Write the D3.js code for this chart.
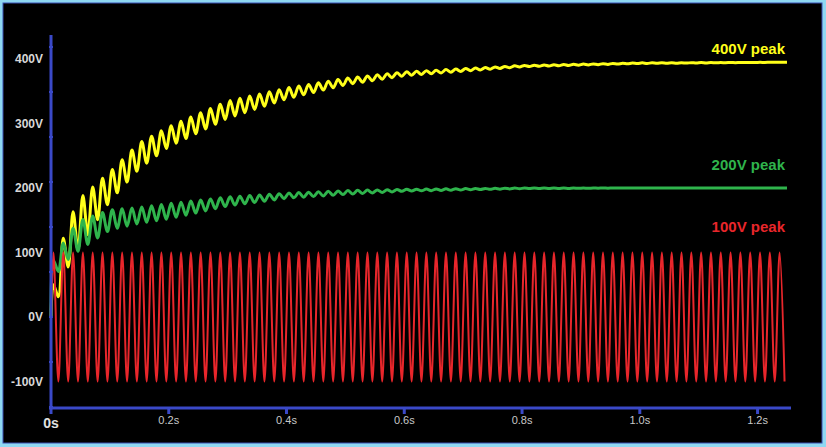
<!DOCTYPE html>
<html><head><meta charset="utf-8">
<script src="https://cdn.jsdelivr.net/npm/d3@7"></script>
<style>body{margin:0;background:#8fd8f2}svg{display:block}</style>
</head><body><div id="chart"></div>
<script>
// values
const yTicks = [-100, 0, 100, 200, 300, 400]
const xTicks = [0, 0.2, 0.4, 0.6, 0.8, 1.0, 1.2]
const freq = 60 // Hz, source frequency (cycles counted on red trace)
const redPeaks = [100, -100]
// envelope of ripple: time, top, bottom
const envT      = [0,   0.005, 0.012, 0.03, 0.05, 0.1, 0.15, 0.2, 0.3, 0.4, 0.5, 0.6, 0.8, 1.0, 1.25]
const yellowTop = [0,   60,    95,    150,  185,  225, 270,  295, 335, 355, 370, 380, 390, 394, 395]
const yellowBot = [0,   30,    30,    80,   110,  180, 230,  264, 308, 338, 360, 374, 388, 393, 395]
const greenTop  = [0,   105,   100,   130,  150,  166, 170,  176, 186, 192, 196, 198, 200, 200, 200]
const greenBot  = [0,   60,    70,    90,   105,  135, 145,  152, 172, 184, 190, 195, 199, 200, 200]
const labels = [
  {name: '400V peak', color: '#ffff1a', v: 395},
  {name: '200V peak', color: '#2fb44c', v: 215},
  {name: '100V peak', color: '#e8262b', v: 120}
]

const W = 826, H = 447
const svg = d3.select('#chart').append('svg').attr('width', W).attr('height', H)
svg.append('rect').attr('x', 3).attr('y', 3).attr('width', W - 7).attr('height', H - 7)
  .attr('fill', '#000').attr('stroke', '#3a4fb0').attr('stroke-width', 1)

const x = d3.scaleLinear().domain([0, 1.25]).range([51, 787])
const y = d3.scaleLinear().domain([0, 100]).range([317, 252.5])

// half-cycle extremes, tops lined up with red positive peaks
function wave(topArr, botArr) {
  const top = d3.scaleLinear().domain(envT).range(topArr)
  const bot = d3.scaleLinear().domain(envT).range(botArr)
  const pts = [[0, 0]]
  for (let k = 0; ; k++) {
    const t = (k + 0.5) / (2 * freq)
    if (t > 1.25) break
    pts.push([t, k % 2 === 0 ? top(t) : bot(t)])
  }
  pts.push([1.25, top(1.25)])
  return pts
}
function redWave() {
  const pts = [[0, 0]]
  for (let k = 0; ; k++) {
    const t = (k + 0.5) / (2 * freq)
    if (t > 1.25) break
    pts.push([t, redPeaks[k % 2]])
  }
  return pts
}

const path = d3.line().x(d => x(d[0])).y(d => y(d[1])).curve(d3.curveCatmullRom.alpha(0.5))

const plot = svg.append('g')
plot.append('path').attr('d', path(wave(yellowTop, yellowBot)))
  .attr('fill', 'none').attr('stroke', '#ffff1a').attr('stroke-width', 3)
plot.append('path').attr('d', path(wave(greenTop, greenBot)))
  .attr('fill', 'none').attr('stroke', '#2fb44c').attr('stroke-width', 3)
plot.append('path').attr('d', path(redWave()))
  .attr('fill', 'none').attr('stroke', '#e8262b').attr('stroke-width', 2)

// axes
const axisColor = '#3a49c8'
const yAxis = svg.append('g').attr('transform', 'translate(51,0)')
yAxis.append('line').attr('y1', 35).attr('y2', 409).attr('stroke', axisColor).attr('stroke-width', 3)
yAxis.selectAll('.mt').data(d3.range(-4, 7)).enter().append('line')
  .attr('x1', -2).attr('x2', 2)
  .attr('y1', d => 317 - d * 45).attr('y2', d => 317 - d * 45)
  .attr('stroke', axisColor).attr('stroke-width', 2)
svg.append('g').selectAll('text').data(yTicks).enter().append('text')
  .attr('x', 43).attr('y', d => y(d)).attr('dy', '0.35em').attr('text-anchor', 'end')
  .attr('fill', '#d8d8d8').attr('font-family', 'Liberation Sans, Arial').attr('font-weight', 'bold')
  .attr('font-size', 12).text(d => d + 'V')

const xAxis = svg.append('g').attr('transform', 'translate(0,408)')
xAxis.append('line').attr('x1', 49).attr('x2', 791).attr('stroke', axisColor).attr('stroke-width', 3)
xAxis.selectAll('.xt').data(xTicks).enter().append('line')
  .attr('x1', d => x(d)).attr('x2', d => x(d)).attr('y1', 0).attr('y2', 6)
  .attr('stroke', axisColor).attr('stroke-width', 3)
xAxis.selectAll('text').data(xTicks).enter().append('text')
  .attr('x', d => x(d)).attr('y', d => d === 0 ? 20 : 16).attr('text-anchor', 'middle')
  .attr('fill', d => d === 0 ? '#e0e0e0' : '#c8c8c8')
  .attr('font-family', 'Liberation Sans, Arial')
  .attr('font-weight', d => d === 0 ? 'bold' : 'normal')
  .attr('font-size', d => d === 0 ? 14 : 11)
  .text(d => (d === 0 ? '0' : d.toFixed(1)) + 's')

svg.append('g').selectAll('text').data(labels).enter().append('text')
  .attr('x', 785).attr('y', d => y(d.v) - 8).attr('text-anchor', 'end')
  .attr('fill', d => d.color).attr('font-family', 'Liberation Sans, Arial')
  .attr('font-weight', 'bold').attr('font-size', 15).text(d => d.name)
</script></body></html>
